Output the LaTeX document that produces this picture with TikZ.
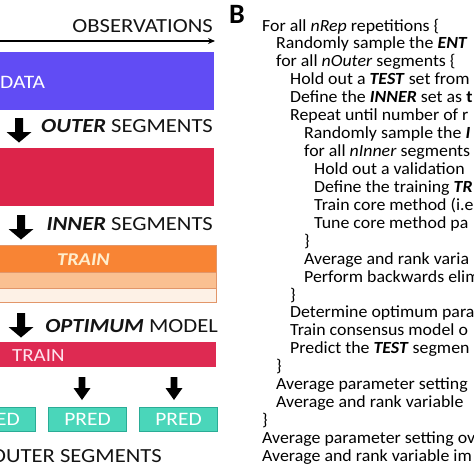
\documentclass[tikz,border=0pt]{standalone}
\usepackage{fontspec}
\setmainfont{Carlito}
\newfontfamily\leftfont{Carlito}[FakeStretch=1.13]
\newfontfamily\rightfont{Carlito}[FakeStretch=1.05]
\usetikzlibrary{arrows.meta}
\definecolor{datapurple}{RGB}{97,76,244}
\definecolor{segred}{RGB}{220,36,74}
\definecolor{trainred}{RGB}{222,42,82}
\definecolor{orgdark}{RGB}{248,132,52}
\definecolor{orgmid}{RGB}{250,192,145}
\definecolor{orglight}{RGB}{253,241,230}
\definecolor{orgline}{RGB}{226,150,105}
\definecolor{predfill}{RGB}{74,214,186}
\definecolor{predline}{RGB}{42,172,150}
\definecolor{cream}{RGB}{255,238,205}
\definecolor{pinkwhite}{RGB}{255,228,238}
\definecolor{labelblack}{RGB}{20,20,20}
\newcommand{\bix}[1]{\textbf{\textit{#1}}}
\tikzset{
  rt/.style={anchor=base west, inner sep=0pt, font=\rightfont\fontsize{17}{18}\selectfont, text=black},
  lbl/.style={inner sep=0pt, font=\leftfont\fontsize{20}{22}\selectfont, text=labelblack},
  blk/.style={anchor=north west, inner sep=0pt, draw=none},
  predbox/.style={anchor=north west, inner sep=0pt, fill=predfill, draw=predline, line width=1.2pt,
    minimum width=78pt, minimum height=24pt, text=white, font=\leftfont\fontsize{19}{20}\selectfont},
  bigarrow/.pic={\fill[black] (-4,0) -- (4,0) -- (4,14) -- (12.5,14) -- (0,24.5) -- (-12.5,14) -- (-4,14) -- cycle;},
  smallarrow/.pic={\fill[black] (-3.3,0) -- (3.3,0) -- (3.3,11) -- (8.5,11) -- (0,23) -- (-8.5,11) -- (-3.3,11) -- cycle;}
}
\begin{document}
\begin{tikzpicture}[x=1pt,y=-1pt]
\useasboundingbox (0,0) rectangle (474,474);
\clip (0,0) rectangle (474,474);
\fill[white] (0,0) rectangle (474,474);

% ---------- left panel ----------
\node[lbl, anchor=base east] (obs) at (213,32) {OBSERVATIONS};
\coordinate (obsL) at (-2,41);
\coordinate (obsR) at (215,41);
\draw[-{Stealth[length=7pt,width=6pt]}, line width=1.3pt] (obsL) -- (obsR);

\node[blk, fill=datapurple, minimum width=219pt, minimum height=58pt] (data) at (-5,52) {};
\node[lbl, anchor=base west, text=white, font=\leftfont\fontsize{19}{20}\selectfont] (datatxt) at (0,88) {DATA};

\pic at (19,118) {bigarrow};
\node[lbl, anchor=base east] (outerlbl) at (213,132) {\bix{OUTER} SEGMENTS};

\node[blk, fill=segred, minimum width=219pt, minimum height=58pt] (outerbox) at (-5,148) {};

\pic at (21,215) {bigarrow};
\node[lbl, anchor=base east] (innerlbl) at (213,230) {\bix{INNER} SEGMENTS};

\node[blk, fill=orgdark, minimum width=221pt, minimum height=27pt] (orgtop) at (-5,245) {};
\node[blk, fill=orgmid, minimum width=221pt, minimum height=16pt] (orgmidbox) at (-5,272) {};
\node[blk, fill=orglight, minimum width=221pt, minimum height=14pt] (orglow) at (-5,288) {};
\draw[orgline, line width=1pt] (orgtop.north west) rectangle (orglow.south east);
\draw[orgline, line width=0.6pt] (orgmidbox.north west) -- (orgmidbox.north east);
\draw[orgline, line width=0.6pt] (orglow.north west) -- (orglow.north east);
\node[lbl, anchor=base west, text=cream, font=\leftfont\fontsize{18}{20}\selectfont\bfseries\itshape] (train1) at (57,265) {TRAIN};

\pic at (21,313) {bigarrow};
\node[lbl, anchor=base east] (optlbl) at (218,332) {\bix{OPTIMUM} MODEL};

\node[blk, fill=trainred, minimum width=221pt, minimum height=25pt] (trainbox) at (-5,342) {};
\node[lbl, anchor=base west, text=pinkwhite, font=\leftfont\fontsize{18.5}{20}\selectfont] (train2) at (12,361) {TRAIN};

\pic at (82,377) {smallarrow};
\pic at (174,377) {smallarrow};

\node[predbox] (pred1) at (-43,407) {PRED};
\node[predbox] (pred2) at (48,407) {PRED};
\node[predbox] (pred3) at (139,407) {PRED};

\node[lbl, anchor=base west] (outerbottom) at (-9,462) {OUTER SEGMENTS};

% ---------- right panel ----------
\node[anchor=base west, inner sep=0pt, font=\fontsize{28}{30}\selectfont\bfseries] (B) at (229,23) {B};

\node[rt] (r1)  at (262,31)    {For all \textit{nRep} repetitions \{};
\node[rt] (r2)  at (276,48.9)  {Randomly sample the \bix{ENT}};
\node[rt] (r3)  at (276,66.9)  {for all \textit{nOuter} segments \{};
\node[rt] (r4)  at (290,84.8)  {Hold out a \bix{TEST} set from};
\node[rt] (r5)  at (290,102.7) {Define the \bix{INNER} set as \textbf{t}};
\node[rt] (r6)  at (290,120.7) {Repeat until number of r};
\node[rt] (r7)  at (304,138.6) {Randomly sample the \bix{I}};
\node[rt] (r8)  at (304,156.5) {for all \textit{nInner} segments};
\node[rt] (r9)  at (314,174.4) {Hold out a validation};
\node[rt] (r10) at (314,192.4) {Define the training \bix{TR}};
\node[rt] (r11) at (314,210.3) {Train core method (i.e};
\node[rt] (r12) at (314,228.2) {Tune core method pa};
\node[rt] (r13) at (304,246.2) {\}};
\node[rt] (r14) at (304,264.1) {Average and rank varia};
\node[rt] (r15) at (304,282.0) {Perform backwards elim};
\node[rt] (r16) at (290,300.0) {\}};
\node[rt] (r17) at (290,317.9) {Determine optimum para};
\node[rt] (r18) at (290,335.8) {Train consensus model o};
\node[rt] (r19) at (290,353.7) {Predict the \bix{TEST} segmen};
\node[rt] (r20) at (276,371.7) {\}};
\node[rt] (r21) at (276,389.6) {Average parameter setting};
\node[rt] (r22) at (276,407.5) {Average and rank variable};
\node[rt] (r23) at (262,425.5) {\}};
\node[rt] (r24) at (262,443.4) {Average parameter setting ov};
\node[rt] (r25) at (262,461.3) {Average and rank variable im};
\end{tikzpicture}
\end{document}
